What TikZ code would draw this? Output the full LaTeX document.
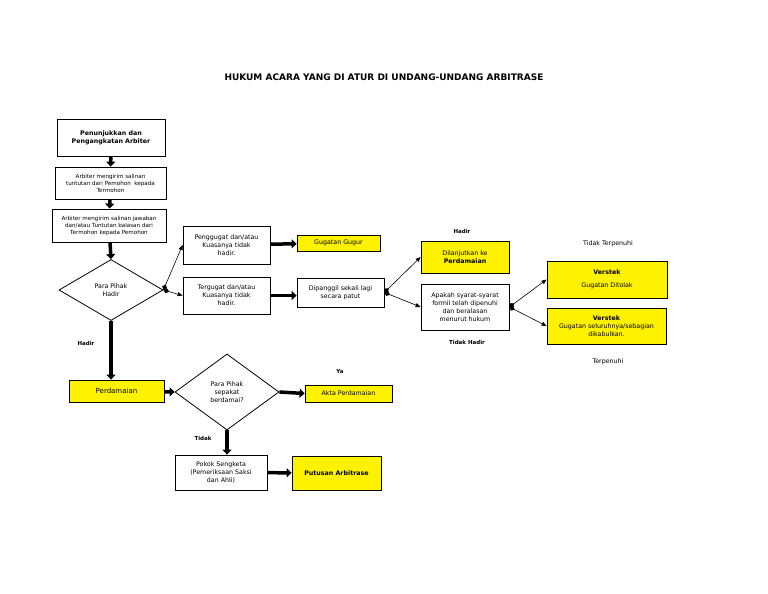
\documentclass[tikz,border=0pt]{standalone}
\usepackage{fontspec}
\setmainfont{DejaVu Sans}
\usetikzlibrary{shapes.geometric,arrows.meta}
\begin{document}
\begin{tikzpicture}[x=1pt,y=-1pt,
 box/.style={draw,line width=0.8pt,align=center,font=\fontsize{6.3}{8}\selectfont,inner sep=1pt},
 yel/.style={box,fill=yellow},
 dia/.style={draw,line width=0.8pt,diamond,aspect=1.7,align=center,font=\fontsize{6.3}{8}\selectfont,inner sep=0pt},
 lab/.style={font=\fontsize{5.5}{7}\selectfont},
 thick arr/.style={line width=3.5pt,-{Triangle[length=5pt,width=9pt]}},
 thin arr/.style={line width=0.6pt,{Diamond[length=6pt,width=5pt]}-{Triangle[length=5pt,width=4pt]}}]
\useasboundingbox (0,0) rectangle (768,594);
\node[font=\bfseries\fontsize{9}{11}\selectfont] (t) at (384,77) {HUKUM ACARA YANG DI ATUR DI UNDANG-UNDANG ARBITRASE};
\node[box,minimum width=108,minimum height=37,font=\bfseries\fontsize{6.3}{8}\selectfont] (b1) at (111,137.5) {Penunjukkan dan\\Pengangkatan Arbiter};
\node[box,minimum width=111,minimum height=32,font=\fontsize{5.6}{7}\selectfont] (b2) at (110.5,183) {Arbiter mengirim salinan\\tuntutan dari Pemohon\ \ kepada\\Termohon};
\node[box,minimum width=114,minimum height=33,font=\fontsize{5.6}{7}\selectfont] (b3) at (109,225.5) {Arbiter mengirim salinan jawaban\\dan/atau Tuntutan balasan dari\\Termohon kepada Pemohon};
\node[dia,minimum width=104,minimum height=61] (d1) at (111,290) {Para Pihak\\Hadir};
\node[box,minimum width=87,minimum height=38] (pg) at (226.5,245) {Penggugat dan/atau\\Kuasanya tidak\\hadir.};
\node[yel,minimum width=83,minimum height=16] (gg) at (338.5,243) {Gugatan Gugur};
\node[box,minimum width=87,minimum height=37] (tg) at (226.5,295.5) {Tergugat dan/atau\\Kuasanya tidak\\hadir.};
\node[box,minimum width=87,minimum height=29] (dp) at (340.5,292.5) {Dipanggil sekali lagi\\secara patut};
\node[yel,minimum width=88,minimum height=32] (dl) at (465,257) {Dilanjutkan ke\\\textbf{Perdamaian}};
\node[box,minimum width=88,minimum height=46] (ap) at (465,307) {Apakah syarat-syarat\\formil telah dipenuhi\\dan beralasan\\menurut hukum};
\node[yel,minimum width=120,minimum height=37] (v1) at (607,279.5) {\textbf{Verstek}\\[5pt]Gugatan Ditolak};
\node[yel,minimum width=119,minimum height=36] (v2) at (606.5,326) {\textbf{Verstek}\\Gugatan seluruhnya/sebagian\\dikabulkan.};
\node[lab,font=\bfseries\fontsize{5.5}{7}\selectfont] (lh) at (462,231) {Hadir};
\node[lab,font=\bfseries\fontsize{5.5}{7}\selectfont] (lth) at (467,342) {Tidak Hadir};
\node[lab,font=\fontsize{6.3}{8}\selectfont] (ltt) at (608,244) {Tidak Terpenuhi};
\node[lab,font=\fontsize{6.3}{8}\selectfont] (lt) at (608,362) {Terpenuhi};
\node[yel,minimum width=95,minimum height=22,font=\fontsize{7}{8}\selectfont] (pd) at (116.5,391) {Perdamaian};
\node[lab,font=\bfseries\fontsize{5.5}{7}\selectfont] (lh2) at (86,343) {Hadir};
\node[dia,minimum width=104,minimum height=76] (d2) at (227,392) {Para Pihak\\sepakat\\berdamai?};
\node[yel,minimum width=87,minimum height=17] (ak) at (348.5,393.5) {Akta Perdamaian};
\node[lab,font=\bfseries\fontsize{5.5}{7}\selectfont] (ly) at (340,372) {Ya};
\node[lab,font=\bfseries\fontsize{5.5}{7}\selectfont] (ltd) at (203,438) {Tidak};
\node[box,minimum width=92,minimum height=35] (pk) at (221,472.5) {Pokok Sengketa\\(Pemeriksaan Saksi\\dan Ahli)};
\node[yel,minimum width=89,minimum height=34,font=\bfseries\fontsize{6.3}{8}\selectfont] (pa) at (336.5,473) {Putusan Arbitrase};
\draw[thick arr] (b1) -- (b2);
\draw[thick arr] (b2) -- (b3);
\draw[thick arr] (b3) -- (d1.north);
\draw[thick arr] (d1.south) -- (pd.north -| d1.south);
\draw[thick arr] (pg) -- (gg);
\draw[thick arr] (tg.east) -- (dp.west |- tg.east);
\draw[thin arr] (d1.east) -- (pg.west);
\draw[thin arr] (d1.east) -- (tg.west);
\draw[thin arr] (dp.east) -- (dl.west);
\draw[thin arr] (dp.east) -- (ap.west);
\draw[thin arr] (ap.east) -- (v1.west);
\draw[thin arr] (ap.east) -- (v2.west);
\draw[thick arr] (pd) -- (d2.west);
\draw[thick arr] (d2.east) -- (ak.west);
\draw[thick arr] (d2.south) -- (pk.north -| d2.south);
\draw[thick arr] (pk) -- (pa);
\end{tikzpicture}
\end{document}
